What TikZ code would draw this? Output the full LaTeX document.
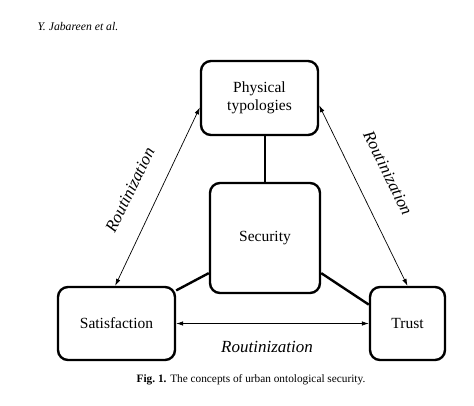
\documentclass[tikz,border=0pt]{standalone}
\usepackage{fontspec}
\setmainfont{Liberation Serif}
\usetikzlibrary{arrows.meta}
\tikzset{
  box/.style={draw, black, line width=2.4pt, rounded corners=10pt, align=center,
    font=\fontsize{15.5}{18.5}\selectfont, inner sep=2pt},
  link/.style={black, line width=2.4pt},
  route/.style={black, line width=0.7pt, {Latex[length=7pt,width=4.5pt]}-{Latex[length=7pt,width=4.5pt]}},
  routelabel/.style={font=\fontsize{17}{20}\selectfont\itshape}
}

\begin{document}
\begin{tikzpicture}[x=1pt,y=-1pt]
\useasboundingbox (0,0) rectangle (474,405);
\node[anchor=west, font=\fontsize{11.7}{14}\selectfont\itshape] (head) at (34,27) {Y.\ Jabareen et al.};

% the four concepts
\node[box, minimum width=117pt, minimum height=74pt] (phys) at (259.5,98) {Physical\\typologies};
\node[box, minimum width=110pt, minimum height=110pt] (sec) at (265,238) {Security};
\node[box, minimum width=117pt, minimum height=73pt] (sat) at (116.5,323.5) {Satisfaction};
\node[box, minimum width=75pt, minimum height=73pt] (trust) at (407.5,323.5) {Trust};

% security joins the others
\draw[link] (sec.north |- phys.south) -- (sec.north);
\draw[link] (sec.212) -- (sat.29);
\draw[link] (sec.-32) -- (trust.154);

% routinization arrows
\draw[route] (phys.189) -- (sat.92);
\draw[route] (phys.-7) -- (trust.north);
\draw[route] (sat.east) -- (trust.west);
\node[routelabel, rotate=64] (rleft) at (130,190) {Routinization};
\node[routelabel, rotate=-64] (rright) at (388,173) {Routinization};
\node[routelabel] (rbottom) at (267,347) {Routinization};

\node[font=\fontsize{11.3}{13.5}\selectfont] (caption) at (251,380) {\textbf{Fig.\ 1.} The concepts of urban ontological security.};
\end{tikzpicture}
\end{document}
